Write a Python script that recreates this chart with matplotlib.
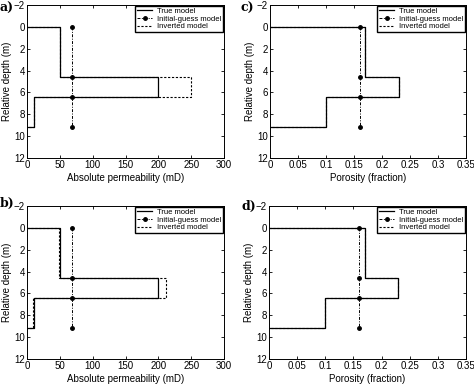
import numpy as np
import matplotlib.pyplot as plt

plt.rcParams['font.family'] = ['Liberation Sans', 'DejaVu Sans']

# layer boundaries (relative depth, m)
depth_top = [0, 4.6, 6.4]
depth_bot = [4.6, 6.4, 9.2]

# permeability (mD)
perm_true = [50, 200, 10]
perm_init = 68
perm_inv_a = [50, 250, 10]
perm_inv_b = [49, 212, 9.5]

# porosity (fraction)
por_true = [0.17, 0.23, 0.10]
por_init = 0.16
por_inv_c = [0.17, 0.23, 0.10]
por_inv_d = [0.17, 0.23, 0.10]

guess_depths = [0, 4.6, 6.4, 9.2]

DASH = (0, (2, 1.5))
DASHDOT = (0, (3, 1.5, 1, 1.5))


def staircase(vals):
    xs, ys = [0], [0]
    for v, t, b in zip(vals, depth_top, depth_bot):
        xs += [v, v]
        ys += [t, b]
    xs.append(0)
    ys.append(depth_bot[-1])
    return xs, ys


def panel(ax, true, inv, init, xlim, xticks, xticklabels, xlabel):
    xs, ys = staircase(inv)
    ax.plot(xs, ys, color='k', ls=DASH, lw=0.8)
    xs, ys = staircase(true)
    ax.plot(xs, ys, color='k', lw=0.9)
    ax.plot([init] * len(guess_depths), guess_depths, color='k', ls=DASHDOT,
            lw=0.7, marker='o', ms=2.5)
    # legend handles
    h1, = ax.plot([], [], color='k', lw=0.9, label='True model')
    h2, = ax.plot([], [], color='k', ls=DASHDOT, lw=0.7, marker='o', ms=2.5,
                  label='Initial-guess model')
    h3, = ax.plot([], [], color='k', ls=DASH, lw=0.8, label='Inverted model')
    ax.legend(handles=[h1, h2, h3], loc='upper right', fontsize=5.5,
              fancybox=False, edgecolor='k', framealpha=1,
              borderpad=0.25, labelspacing=0.05, handlelength=2.0,
              borderaxespad=0.1, handletextpad=0.6)
    ax.set_xlim(xlim)
    ax.set_ylim(12, -2)
    ax.set_xticks(xticks)
    ax.set_xticklabels(xticklabels)
    ax.set_yticks(range(-2, 13, 2))
    ax.set_xlabel(xlabel, fontsize=7, labelpad=2)
    ax.set_ylabel('Relative depth (m)', fontsize=7, labelpad=1)
    ax.tick_params(labelsize=7, direction='in', length=2, width=0.6,
                   top=True, right=True, pad=1.5)
    for s in ax.spines.values():
        s.set_linewidth(0.7)


fig = plt.figure(figsize=(4.74, 3.84), dpi=100)
W, H = 474, 384
ax_a = fig.add_axes([27 / W, 1 - 158 / H, 197 / W, 153 / H])
ax_c = fig.add_axes([270 / W, 1 - 158 / H, 196 / W, 153 / H])
ax_b = fig.add_axes([27 / W, 1 - 359 / H, 197 / W, 153 / H])
ax_d = fig.add_axes([269 / W, 1 - 359 / H, 197 / W, 153 / H])

pt = [0, 50, 100, 150, 200, 250, 300]
ptl = [str(v) for v in pt]
ot = [0, 0.05, 0.1, 0.15, 0.2, 0.25, 0.3, 0.35]
otl = ['0', '0.05', '0.1', '0.15', '0.2', '0.25', '0.3', '0.35']

panel(ax_a, perm_true, perm_inv_a, perm_init, (0, 300), pt, ptl,
      'Absolute permeability (mD)')
panel(ax_b, perm_true, perm_inv_b, perm_init, (0, 300), pt, ptl,
      'Absolute permeability (mD)')
panel(ax_c, por_true, por_inv_c, por_init, (0, 0.35), ot, otl,
      'Porosity (fraction)')
panel(ax_d, por_true, por_inv_d, por_init, (0, 0.35), ot, otl,
      'Porosity (fraction)')

tag_kw = dict(fontsize=9, fontweight='bold', family='DejaVu Serif',
              ha='left', va='center')
fig.text(0 / W, 1 - 8 / H, 'a)', **tag_kw)
fig.text(240 / W, 1 - 8 / H, 'c)', **tag_kw)
fig.text(0 / W, 1 - 203 / H, 'b)', **tag_kw)
fig.text(241 / W, 1 - 206 / H, 'd)', **tag_kw)

fig.savefig('out.png', dpi=100)
